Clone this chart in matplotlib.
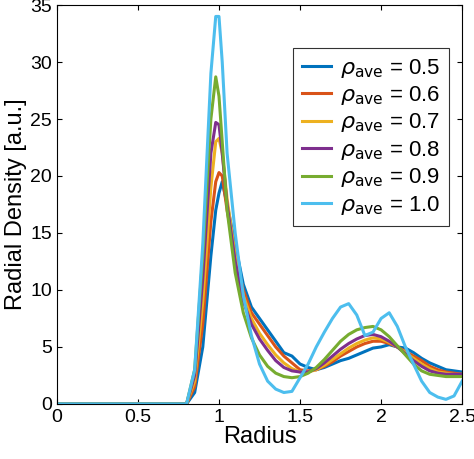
import matplotlib
matplotlib.use("Agg")
import matplotlib.pyplot as plt

plt.rcParams['font.family'] = ['Liberation Sans', 'DejaVu Sans']
plt.rcParams['mathtext.fontset'] = 'dejavusans'

labels = ['0.5', '0.6', '0.7', '0.8', '0.9', '1.0']
colors = ['#0072BD', '#D95319', '#EDB120', '#7E2F8E', '#77AC30', '#4DBEEE']

x = [0, 0.5, 0.8, 0.85, 0.9, 0.95, 0.98, 1.0, 1.02, 1.05, 1.1, 1.15, 1.2, 1.25, 1.3, 1.35, 1.4, 1.45,
     1.5, 1.55, 1.6, 1.65, 1.7, 1.75, 1.8, 1.85, 1.9, 1.95, 2.0, 2.05, 2.1, 2.15, 2.2, 2.25, 2.3, 2.35,
     2.4, 2.45, 2.5]

rho_05 = [0, 0, 0, 1, 5, 13, 17, 18.5, 19.5, 17.5, 14, 10.5, 8.5, 7.5, 6.5, 5.5, 4.5, 4.2,
          3.5, 3.2, 3.0, 3.2, 3.5, 3.8, 4.0, 4.3, 4.6, 4.9, 5.0, 5.2, 5.0, 4.9, 4.5, 4.0, 3.6, 3.3,
          3.0, 2.9, 2.8]
rho_06 = [0, 0, 0, 1.5, 7, 16, 19.5, 20.3, 20.0, 17, 13, 10, 8, 7, 6, 5, 4.2, 3.6,
          3.0, 2.9, 3.0, 3.3, 3.7, 4.2, 4.6, 5.0, 5.3, 5.5, 5.5, 5.3, 5.0, 4.6, 4.2, 3.8, 3.3, 3.0,
          2.8, 2.7, 2.6]
rho_07 = [0, 0, 0, 2, 9, 19, 23, 23.3, 22, 18, 13, 9.5, 7.5, 6.2, 5.2, 4.3, 3.6, 3.1,
          2.8, 2.8, 3.0, 3.4, 3.9, 4.4, 4.9, 5.3, 5.6, 5.8, 5.7, 5.4, 5.0, 4.5, 4.0, 3.5, 3.1, 2.8,
          2.7, 2.6, 2.6]
rho_08 = [0, 0, 0, 2.5, 11, 22, 24.7, 24.5, 22, 17.5, 12.5, 9, 7, 5.7, 4.7, 3.8, 3.2, 2.9,
          2.8, 2.8, 3.1, 3.6, 4.2, 4.8, 5.3, 5.7, 6.0, 6.1, 5.9, 5.5, 5.0, 4.4, 3.8, 3.3, 2.9, 2.7,
          2.6, 2.6, 2.6]
rho_09 = [0, 0, 0, 3, 13, 25, 28.7, 27, 23, 17, 11.5, 8, 5.8, 4.3, 3.3, 2.7, 2.4, 2.3,
          2.4, 2.7, 3.2, 3.9, 4.7, 5.5, 6.1, 6.5, 6.7, 6.8, 6.5, 5.9, 5.1, 4.3, 3.5, 2.9, 2.6, 2.5,
          2.4, 2.4, 2.4]
rho_10 = [0, 0, 0, 3, 14, 29, 34, 34, 30, 22, 15, 9.5, 6, 3.5, 2, 1.3, 1.0, 1.1,
          2.3, 3.5, 5.0, 6.3, 7.5, 8.5, 8.8, 7.8, 6.0, 6.3, 7.5, 8.0, 6.8, 5.0, 3.5, 2.0, 1.0, 0.6,
          0.4, 0.7, 2.0]
series = [rho_05, rho_06, rho_07, rho_08, rho_09, rho_10]

fig = plt.figure(figsize=(4.74, 4.59), dpi=100)
ax = fig.add_axes([0.12, 0.12, 0.855, 0.869])
for y, lab, c in zip(series, labels, colors):
    ax.plot(x, y, color=c, lw=2.2, label=r'$\rho_{\rm ave}$ = ' + lab)

ax.set_xlim(0, 2.5)
ax.set_ylim(0, 35)
ax.set_xticks([0, 0.5, 1, 1.5, 2, 2.5])
ax.set_xticklabels(['0', '0.5', '1', '1.5', '2', '2.5'])
ax.tick_params(direction='in', labelsize=14, top=True, right=True)
ax.set_xlabel('Radius', fontsize=17, labelpad=0)
ax.set_ylabel('Radial Density [a.u.]', fontsize=17, labelpad=2)
leg = ax.legend(loc='upper right', bbox_to_anchor=(0.985, 0.91), fontsize=16, fancybox=False,
                edgecolor='black', handlelength=1.3, handletextpad=0.4,
                borderaxespad=0.3, labelspacing=0.2)
leg.get_frame().set_linewidth(0.8)
fig.savefig('out.png', dpi=100)
